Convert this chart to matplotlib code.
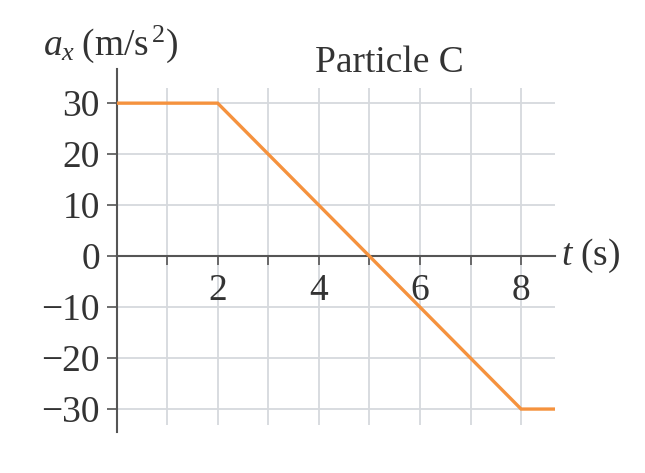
import matplotlib
matplotlib.use("Agg")
import matplotlib.pyplot as plt
import numpy as np

# Data
t_vals = [0, 2, 8, 8.67]
a_vals = [30, 30, -30, -30]
y_ticks = [-30, -20, -10, 0, 10, 20, 30]
x_ticks = [1, 2, 3, 4, 5, 6, 7, 8]
x_labels = ["", "2", "", "4", "", "6", "", "8"]
title = "Particle C"
ylabel = r"$a_x\;(\mathrm{m/s}^{\,2})$"
xlabel = r"$t\ (\mathrm{s})$"

plt.rcParams['font.family'] = ['Liberation Serif', 'DejaVu Serif']
plt.rcParams['mathtext.fontset'] = 'custom'
plt.rcParams['mathtext.rm'] = 'Liberation Serif'
plt.rcParams['mathtext.it'] = 'Liberation Serif:italic'

W, H = 645, 473
fig = plt.figure(figsize=(W/100, H/100), dpi=100)
fig.patch.set_facecolor('white')
ax = fig.add_axes([116.5/W, 1-432/H, (555-116.5)/W, (432-69)/H])
ax.set_facecolor('none')
ax.set_xlim(0, 8.67)
ax.set_ylim(-34.5, 36.7)

grid_c = '#d6d9dd'
axis_c = '#555555'
txt_c = '#333333'
FS = 27
# horizontal grid
for y in y_ticks:
    if y != 0:
        ax.axhline(y, color=grid_c, lw=1.3, zorder=1)
# vertical grid
ax.vlines(x_ticks, -33.1, 32.9, color=grid_c, lw=1.3, zorder=1)

ax.plot(t_vals, a_vals, color='#f5923e', lw=2.4, zorder=3, solid_joinstyle='miter')

for s in ['top', 'right']:
    ax.spines[s].set_visible(False)
ax.spines['bottom'].set_position(('data', 0))
ax.spines['bottom'].set_color(axis_c)
ax.spines['left'].set_color(axis_c)
ax.spines['bottom'].set_linewidth(1.5)
ax.spines['left'].set_linewidth(1.5)

ax.set_xticks(x_ticks)
ax.set_xticklabels(x_labels)
ax.set_yticks(y_ticks)
ax.set_yticklabels([f"{v}".replace('-', '\u2212') for v in y_ticks])
ax.tick_params(axis='x', direction='out', length=6.5, width=1.2, color=axis_c,
               labelsize=FS, pad=6, labelcolor=txt_c)
ax.tick_params(axis='y', direction='out', length=7, width=1.2, color=axis_c,
               labelsize=FS, pad=5, labelcolor=txt_c)

fig.text(389/W, 1-72/H, title, ha='center', va='baseline', fontsize=27, color=txt_c)
fig.text(43/W, 1-55/H, ylabel, ha='left', va='baseline', fontsize=FS, color=txt_c)
fig.text(561/W, 1-265/H, xlabel, ha='left', va='baseline', fontsize=FS, color=txt_c)

fig.savefig('out.png', dpi=100)
